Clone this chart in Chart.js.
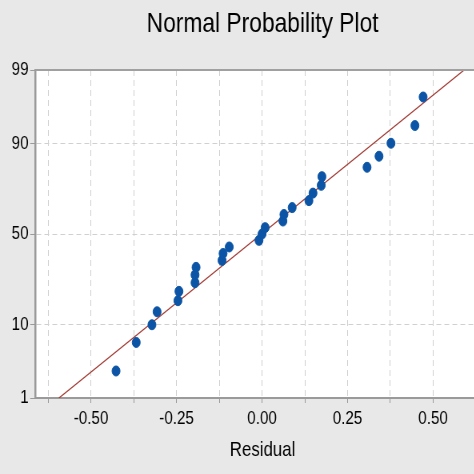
<!DOCTYPE html>
<html>
<head>
<meta charset="utf-8">
<script src="https://cdn.jsdelivr.net/npm/chart.js@4/dist/chart.umd.min.js"></script>
<style>
  html, body { margin: 0; padding: 0; background: #e8e8e8; overflow: hidden; }
  #wrap { position: relative; width: 655px; height: 474px; transform: scaleX(0.8); transform-origin: 0 0; }
</style>
</head>
<body>
<div id="wrap"><canvas id="c"></canvas></div>
<script>
// ---- Data ----
const residuals = [-0.427, -0.368, -0.322, -0.307, -0.246, -0.243, -0.196, -0.196, -0.193,
                   -0.117, -0.114, -0.096, -0.009, 0.000, 0.009, 0.061, 0.064, 0.088,
                   0.137, 0.149, 0.173, 0.175, 0.307, 0.342, 0.377, 0.447, 0.471];
const percents  = [2.6, 6.2, 9.9, 13.5, 17.2, 20.8, 24.5, 28.1, 31.8,
                   35.4, 39.1, 42.7, 46.4, 50.0, 53.6, 57.3, 60.9, 64.6,
                   68.2, 71.9, 75.5, 79.2, 82.8, 86.5, 90.1, 93.8, 97.4];
const fitResidual = [-0.594, 0.591];
const fitPercent  = [1, 99];
const yTickPercents = [1, 10, 50, 90, 99];
const xTickValues = [-0.625, -0.5, -0.375, -0.25, -0.125, 0, 0.125, 0.25, 0.375, 0.5, 0.625];

// inverse standard normal CDF (Acklam) -> probability-paper axis
function probit(p) {
  const a = [-3.969683028665376e+01, 2.209460984245205e+02, -2.759285104469687e+02, 1.383577518672690e+02, -3.066479806614716e+01, 2.506628277459239e+00];
  const b = [-5.447609879822406e+01, 1.615858368580409e+02, -1.556989798598866e+02, 6.680131188771972e+01, -1.328068155288572e+01];
  const c = [-7.784894002430293e-03, -3.223964580411365e-01, -2.400758277161838e+00, -2.549732539343734e+00, 4.374664141464968e+00, 2.938163982698783e+00];
  const d = [7.784695709041462e-03, 3.224671290700398e-01, 2.445134137142996e+00, 3.754408661907416e+00];
  const pl = 0.02425;
  let q, r;
  if (p < pl) { q = Math.sqrt(-2 * Math.log(p)); return (((((c[0]*q+c[1])*q+c[2])*q+c[3])*q+c[4])*q+c[5]) / ((((d[0]*q+d[1])*q+d[2])*q+d[3])*q+1); }
  if (p <= 1 - pl) { q = p - 0.5; r = q*q; return (((((a[0]*r+a[1])*r+a[2])*r+a[3])*r+a[4])*r+a[5])*q / (((((b[0]*r+b[1])*r+b[2])*r+b[3])*r+b[4])*r+1); }
  q = Math.sqrt(-2 * Math.log(1 - p)); return -(((((c[0]*q+c[1])*q+c[2])*q+c[3])*q+c[4])*q+c[5]) / ((((d[0]*q+d[1])*q+d[2])*q+d[3])*q+1);
}
const z = pct => probit(pct / 100);

const points = residuals.map((r, i) => ({ x: r, y: z(percents[i]) }));
const fitLine = fitResidual.map((r, i) => ({ x: r, y: z(fitPercent[i]) }));

const plotBg = {
  id: 'plotBg',
  beforeDraw(chart) {
    const { ctx, chartArea: a } = chart;
    ctx.save(); ctx.fillStyle = '#ffffff';
    ctx.fillRect(a.left, a.top, a.right - a.left, a.bottom - a.top);
    ctx.restore();
  },
  afterDraw(chart) {
    const { ctx, chartArea: a } = chart;
    ctx.save(); ctx.strokeStyle = '#a0a0a0'; ctx.lineWidth = 2;
    ctx.beginPath(); ctx.moveTo(a.left, a.top); ctx.lineTo(a.right, a.top); ctx.stroke();
    ctx.restore();
  }
};

const FAMILY = "'Liberation Sans', Arial, sans-serif";
const tickFont = { family: FAMILY, size: 19 };

new Chart(document.getElementById('c'), {
  type: 'scatter',
  data: {
    datasets: [
      { type: 'scatter', data: points, backgroundColor: '#0c55a6', borderColor: '#0c55a6',
        pointRadius: 5, pointHoverRadius: 5, order: 1 },
      { type: 'line', data: fitLine, borderColor: '#a33a33', borderWidth: 1.3,
        pointRadius: 0, fill: false, order: 2 }
    ]
  },
  plugins: [plotBg],
  options: {
    responsive: true, maintainAspectRatio: false, animation: false,
    layout: { padding: { left: 0, right: 42.3, top: 0, bottom: 0 } },
    plugins: {
      legend: { display: false }, tooltip: { enabled: false },
      title: { display: true, fullSize: false, text: 'Normal Probability Plot', color: '#000',
        font: { family: FAMILY, size: 28.5, weight: 'normal' },
        padding: { top: 7, bottom: 28.8 } }
    },
    scales: {
      x: {
        type: 'linear', min: -0.664, max: 0.667,
        afterBuildTicks: s => { s.ticks = xTickValues.map(v => ({ value: v })); },
        afterFit: s => { s.height = 76; },
        ticks: { color: '#000', font: tickFont, padding: 4, maxRotation: 0, autoSkip: false,
          callback: v => (Math.abs(v / 0.25 - Math.round(v / 0.25)) < 1e-6 ? v.toFixed(2) : '') },
        grid: { color: '#d0d0d0', lineWidth: 1, tickLength: 5, tickColor: '#9a9a9a', drawTicks: true },
        border: { display: true, color: '#9a9a9a', width: 2, dash: [6, 4] },
        title: { display: true, text: 'Residual', color: '#000',
          font: { family: FAMILY, size: 21 },
          padding: { top: 0, bottom: 11 } }
      },
      y: {
        type: 'linear', min: z(1), max: z(99),
        afterBuildTicks: s => { s.ticks = yTickPercents.map(p => ({ value: z(p) })); },
        afterFit: s => { s.width = 43.75; },
        ticks: { color: '#000', font: tickFont, padding: 2, autoSkip: false,
          callback: (v, i) => String(yTickPercents[i]) },
        grid: { color: '#d0d0d0', lineWidth: 1, tickLength: 6, tickColor: '#9a9a9a' },
        border: { display: true, color: '#9a9a9a', width: 2.5, dash: [6, 4] }
      }
    }
  }
});
</script>
</body>
</html>
